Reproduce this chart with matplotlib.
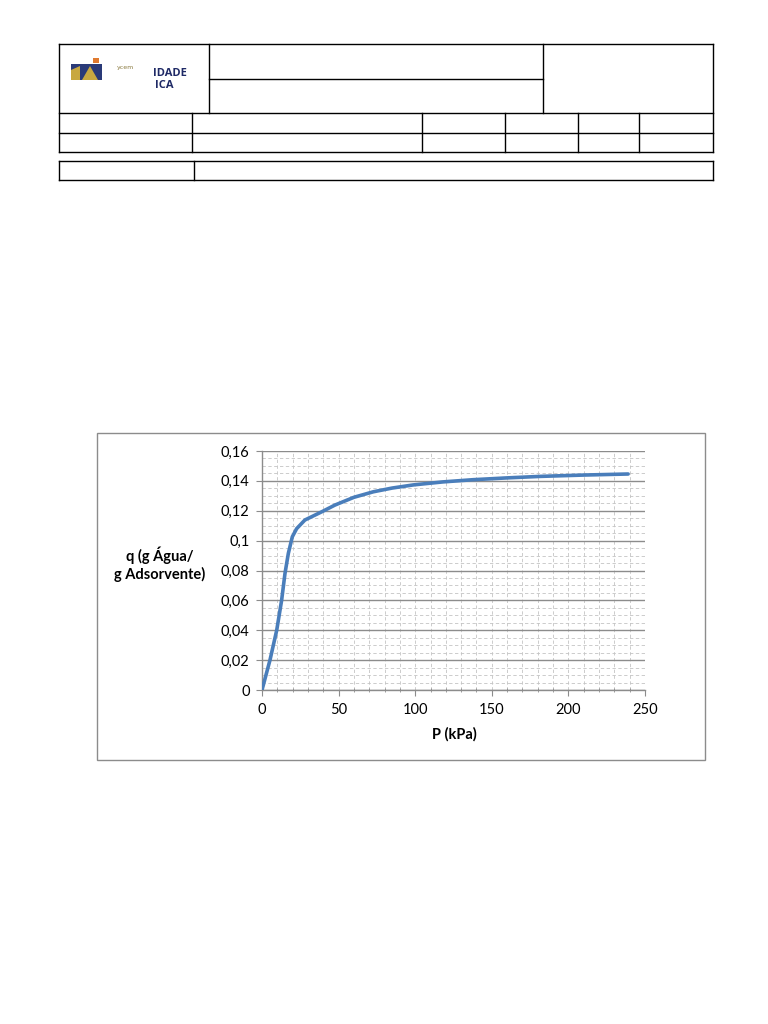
import matplotlib
matplotlib.use("Agg")
import matplotlib.pyplot as plt
from matplotlib.lines import Line2D
from matplotlib.patches import Rectangle, Polygon
from matplotlib.ticker import MultipleLocator, FuncFormatter

# Data
pressure_kpa = [0, 5.2, 9.6, 12.8, 15.0, 17.2, 19.8, 22.6, 28, 39, 47.6, 60, 72.7, 85, 98.8, 118, 138, 160, 181.5, 210, 239]
q_values = [0, 0.020, 0.040, 0.060, 0.078, 0.0915, 0.1026, 0.108, 0.1138, 0.1193, 0.1238, 0.1290, 0.1327, 0.1352, 0.1373, 0.1393, 0.1408, 0.1420, 0.1430, 0.1439, 0.1446]
x_ticks = [0, 50, 100, 150, 200, 250]
y_ticks = [0, 0.02, 0.04, 0.06, 0.08, 0.10, 0.12, 0.14, 0.16]

W, H = 768, 1024
fig = plt.figure(figsize=(W / 100, H / 100), dpi=100)
fig.patch.set_facecolor("white")

def fx(x):
    return x / W

def fy(y):
    return 1 - y / H

def hline(x0, x1, y, lw=1.0, color="black"):
    fig.add_artist(Line2D([fx(x0), fx(x1)], [fy(y), fy(y)], color=color, lw=lw))

def vline(x, y0, y1, lw=1.0, color="black"):
    fig.add_artist(Line2D([fx(x), fx(x)], [fy(y0), fy(y1)], color=color, lw=lw))

# Header table
hline(59, 713, 44)
hline(59, 713, 113)
hline(59, 713, 133)
hline(59, 713, 152)
vline(59, 44, 152)
vline(713, 44, 152)
vline(209, 44, 113)
vline(543, 44, 113)
hline(209, 543, 79)
for cx in [192, 422, 505, 578, 639]:
    vline(cx, 113, 152)

# Second box
hline(59, 713, 161)
hline(59, 713, 180)
vline(59, 161, 180)
vline(713, 161, 180)
vline(194, 161, 180)

# Logo approximation
fig.add_artist(Rectangle((fx(71), fy(80)), 31 / W, 16 / H, facecolor="#2a3a78", edgecolor="none"))
fig.add_artist(Polygon([[fx(71), fy(80)], [fx(71), fy(70)], [fx(80), fy(66)], [fx(80), fy(80)]],
                       closed=True, facecolor="#c8a840", edgecolor="none"))
fig.add_artist(Polygon([[fx(82), fy(80)], [fx(90), fy(66)], [fx(98), fy(80)]],
                       closed=True, facecolor="#c8a840", edgecolor="none"))
fig.add_artist(Rectangle((fx(93), fy(63)), 6 / W, 5 / H, facecolor="#e07a30", edgecolor="none"))
fig.text(fx(117), fy(68), "ycem", color="#8a7a40", fontsize=4.5, ha="left", va="center")
fig.text(fx(153), fy(74), "IDADE", color="#1f2a66", fontsize=8, fontweight="bold",
         ha="left", va="center", family="Open Sans")
fig.text(fx(155), fy(86), "ICA", color="#1f2a66", fontsize=8, fontweight="bold",
         ha="left", va="center", family="Open Sans")

# Chart frame
fig.add_artist(Rectangle((fx(97), fy(760)), (705 - 97) / W, (760 - 433) / H,
                         facecolor="none", edgecolor="#8c8c8c", lw=1.0))

ax = fig.add_axes([fx(262), fy(690), (645 - 262) / W, (690 - 451) / H])
ax.set_facecolor("white")
ax.plot(pressure_kpa, q_values, color="#4a7ebb", lw=2.6, solid_capstyle="round",
        solid_joinstyle="round", zorder=5)

ax.set_xlim(0, 250)
ax.set_ylim(0, 0.16)
ax.set_xticks(x_ticks)
ax.set_yticks(y_ticks)
ax.xaxis.set_minor_locator(MultipleLocator(10))
ax.yaxis.set_minor_locator(MultipleLocator(0.005))

ax.grid(which="minor", color="#c4c4c4", lw=0.6, linestyle=(0, (4, 3)))
ax.grid(which="major", axis="y", color="#8c8c8c", lw=1.0, linestyle="-")
ax.grid(which="major", axis="x", color="#c4c4c4", lw=0.6, linestyle=(0, (4, 3)))
ax.set_axisbelow(True)

for s in ["top", "right"]:
    ax.spines[s].set_visible(False)
for s in ["left", "bottom"]:
    ax.spines[s].set_color("#8c8c8c")
    ax.spines[s].set_linewidth(1.0)

def comma_fmt(v, pos):
    if abs(v) < 1e-12:
        return "0"
    s = ("%.2f" % v).rstrip("0").rstrip(".")
    return s.replace(".", ",")

ax.yaxis.set_major_formatter(FuncFormatter(comma_fmt))
ax.tick_params(which="major", direction="out", length=4, color="#8c8c8c",
               labelsize=10.5, labelcolor="black", pad=5)
ax.tick_params(axis="x", which="minor", direction="inout", length=3, color="#8c8c8c")
ax.tick_params(axis="y", which="minor", length=0)
for lbl in ax.get_xticklabels() + ax.get_yticklabels():
    lbl.set_family("Lato")

fig.text(fx(160), fy(564), "q (g \u00c1gua/\ng Adsorvente)", ha="center", va="center",
         fontsize=10.5, fontweight="bold", family="Lato", linespacing=1.25)
fig.text(fx(454), fy(734), "P (kPa)", ha="center", va="center",
         fontsize=10.5, fontweight="bold", family="Lato")

fig.savefig("out.png", dpi=100, facecolor="white")
